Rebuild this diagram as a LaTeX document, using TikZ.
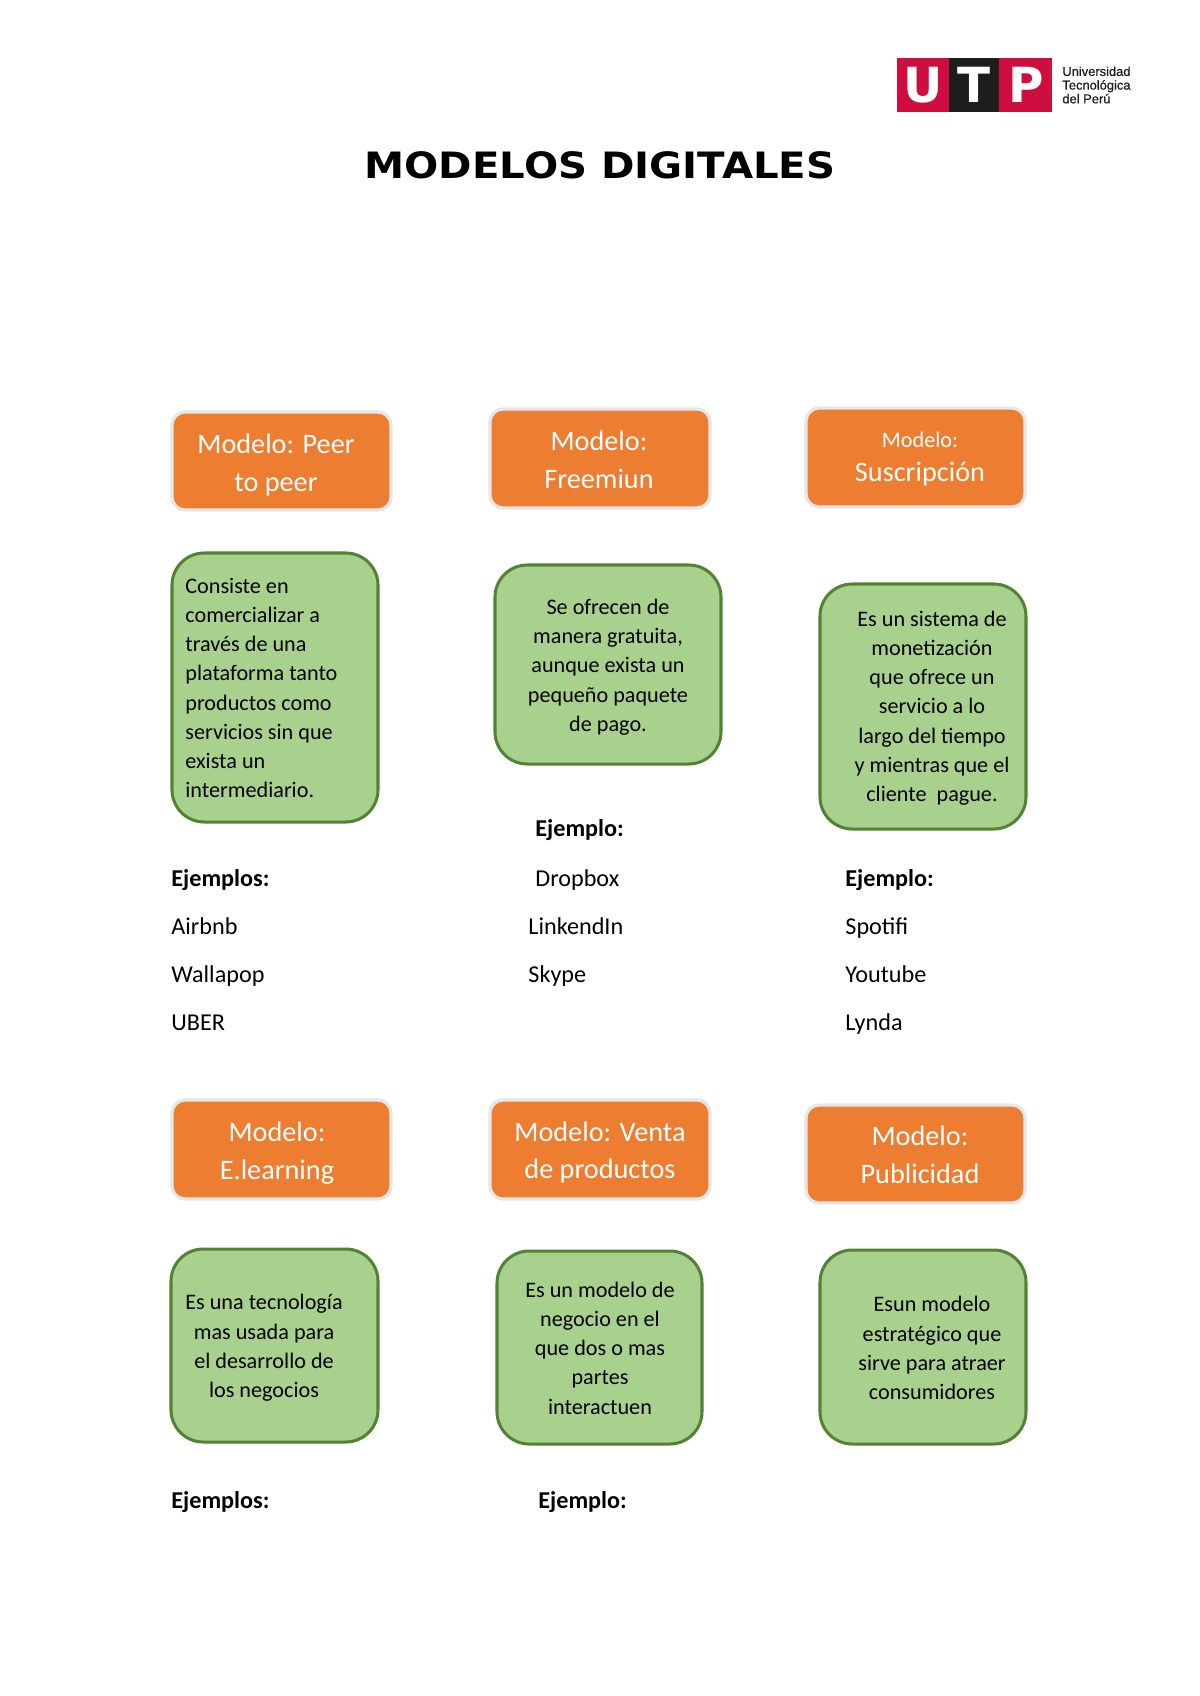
\documentclass[tikz,border=0pt]{standalone}
\usepackage{fontspec}
\setmainfont{Carlito}
\newfontfamily\titlefont[FakeStretch=1.11]{DejaVu Sans}
\newfontfamily\logofont{DejaVu Sans}
\newfontfamily\logoname[FakeBold=0.5]{Liberation Sans}
\definecolor{orangefill}{HTML}{ED7D31}
\definecolor{orangeedge}{HTML}{E7E6E6}
\definecolor{greenfill}{HTML}{A9D18E}
\definecolor{greenedge}{HTML}{548235}
\definecolor{utpred}{HTML}{CE0E3F}
\definecolor{utpblack}{HTML}{1D1D1B}
\tikzset{
  orangebox/.style={rectangle,rounded corners=6.5pt,fill=orangefill,draw=orangeedge,line width=1.6pt,inner sep=0pt},
  greenbox/.style={rectangle,rounded corners=16pt,fill=greenfill,draw=greenedge,line width=1.5pt,inner sep=0pt},
  orangetext/.style={text=white,align=center,inner sep=0pt,font=\fontsize{14}{18.6}\selectfont},
  greentext/.style={text=black,align=center,inner sep=0pt,font=\fontsize{11}{14.5}\selectfont},
  greenleft/.style={greentext,align=left},
  plain/.style={anchor=base west,inner sep=0pt,text=black,font=\fontsize{12}{14}\selectfont},
  plainbold/.style={plain,font=\fontsize{12}{14}\selectfont\bfseries},
  utpletter/.style={text=white,inner sep=0pt,font=\logofont\bfseries\fontsize{24}{24}\selectfont},
  utpname/.style={anchor=west,align=left,inner sep=0pt,text=utpblack,font=\logoname\fontsize{6.4}{6.8}\selectfont},
}
% #1 style, #2 name, #3-#6 x1 y1 x2 y2
\newcommand{\shapebox}[6]{\node[#1,minimum width={(#5-#3)*0.496pt},minimum height={(#6-#4)*0.496pt}] (#2) at ({(#3+#5)/2},{(#4+#6)/2}) {};}
\begin{document}
\begin{tikzpicture}[x=0.496pt,y=-0.496pt]
\useasboundingbox[fill=white] (0,0) rectangle (1200,1696);
% logo
\node[rectangle,fill=utpred,minimum width={155*0.496pt},minimum height={54*0.496pt},inner sep=0pt] (logored) at (974.5,85) {};
\node[rectangle,fill=utpblack,minimum width={50*0.496pt},minimum height={54*0.496pt},inner sep=0pt] (logoblack) at (974,85) {};
\node[utpletter] (logoU) at (923,85) {U};
\node[utpletter] (logoT) at (974,85) {T};
\node[utpletter] (logoP) at (1026,85) {P};
\node[utpname] (logoname) at (1062,85) {Universidad\\Tecnológica\\del Perú};
% title
\node[inner sep=0pt,font=\titlefont\bfseries\fontsize{18}{22}\selectfont] (title) at (600,165) {MODELOS DIGITALES};
% orange boxes
\shapebox{orangebox}{o1}{172}{412}{391}{510}
\shapebox{orangebox}{o2}{490}{409}{710}{508}
\shapebox{orangebox}{o3}{806}{408}{1025}{507}
\shapebox{orangebox}{o4}{172}{1100}{391}{1199}
\shapebox{orangebox}{o5}{490}{1100}{710}{1199}
\shapebox{orangebox}{o6}{806}{1105}{1025}{1203}
\node[orangetext] (ot1) at (276,465) {Modelo: Peer\\to peer};
\node[orangetext] (ot2) at (599,460) {Modelo:\\Freemiun};
\node[orangetext] (ot3) at (920,459) {{\fontsize{11}{16.5}\selectfont Modelo:}\\[-2pt]Suscripción};
\node[orangetext] (ot4) at (277,1153) {Modelo:\\E.learning};
\node[orangetext] (ot5) at (600,1152.5) {Modelo: Venta\\de productos};
\node[orangetext] (ot6) at (920,1155) {Modelo:\\Publicidad};
% green boxes
\shapebox{greenbox}{g1}{172}{553}{378}{822}
\shapebox{greenbox}{g2}{495}{565}{721}{764}
\shapebox{greenbox}{g3}{820}{584}{1026}{829}
\shapebox{greenbox}{g4}{171}{1249}{378}{1442}
\shapebox{greenbox}{g5}{497}{1251}{702}{1444}
\shapebox{greenbox}{g6}{820}{1250}{1026}{1444}
\node[greenleft,anchor=west] (gt1) at (185,688) {Consiste en\\comercializar a\\través de una\\plataforma tanto\\productos como\\servicios sin que\\exista un\\intermediario.};
\node[greentext] (gt2) at (608,667) {Se ofrecen de\\manera gratuita,\\aunque exista un\\pequeño paquete\\de pago.};
\node[greentext] (gt3) at (932,708) {Es un sistema de\\monetización\\que ofrece un\\servicio a lo\\largo del tiempo\\y mientras que el\\cliente\ \ pague.};
\node[greentext] (gt4) at (264,1348) {Es una tecnología\\mas usada para\\el desarrollo de\\los negocios};
\node[greentext] (gt5) at (600,1348) {Es un modelo de\\negocio en el\\que dos o mas\\partes\\interactuen};
\node[greentext] (gt6) at (932,1348) {Esun modelo\\estratégico que\\sirve para atraer\\consumidores};
% plain text
\node[plainbold] (e1) at (171,886) {Ejemplos:};
\node[plain] (e1a) at (171,934) {Airbnb};
\node[plain] (e1b) at (171,982) {Wallapop};
\node[plain] (e1c) at (171,1030) {UBER};
\node[plainbold] (e2) at (535,836) {Ejemplo:};
\node[plain] (e2a) at (535,886) {Dropbox};
\node[plain] (e2b) at (528,934) {LinkendIn};
\node[plain] (e2c) at (528,982) {Skype};
\node[plainbold] (e3) at (845,886) {Ejemplo:};
\node[plain] (e3a) at (845,934) {Spotifi};
\node[plain] (e3b) at (845,982) {Youtube};
\node[plain] (e3c) at (845,1030) {Lynda};
\node[plainbold] (e4) at (171,1508) {Ejemplos:};
\node[plainbold] (e5) at (538,1508) {Ejemplo:};
\end{tikzpicture}
\end{document}
